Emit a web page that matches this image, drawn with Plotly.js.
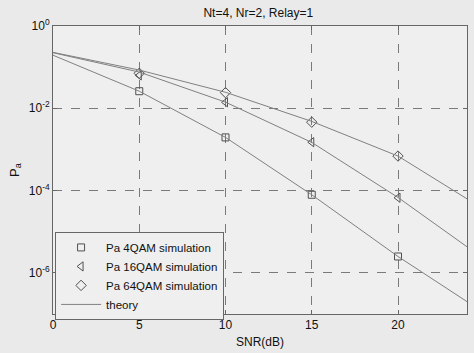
<!DOCTYPE html>
<html><head><meta charset="utf-8">
<script src="https://cdn.plot.ly/plotly-3.0.1.min.js"></script>
<style>html,body{margin:0;padding:0;background:#eaeaea;}</style>
</head><body><div id="chart" style="width:474px;height:353px;"></div>
<script>
const simSNR = [5, 10, 15, 20];
const sim4QAM = [0.026, 0.00196, 7.9e-5, 2.5e-6];
const sim16QAM = [0.063, 0.014, 0.0015, 6.7e-5];
const sim64QAM = [0.071, 0.024, 0.0046, 6.9e-4];

const theorySNR = [0, 5, 10, 15, 20, 24];
const th4QAM = [0.195, 0.026, 0.00196, 7.9e-5, 2.5e-6, 2.0e-7];
const th16QAM = [0.224, 0.076, 0.0141, 0.00148, 6.8e-5, 4.3e-6];
const th64QAM = [0.229, 0.085, 0.0245, 0.0048, 6.9e-4, 6.3e-5];

const mk = '#505050', ln = '#808080';
const traces = [
  {x: simSNR, y: sim4QAM, mode: 'markers', name: 'Pa 4QAM simulation',
   marker: {symbol: 'square-open', size: 7, color: mk, line: {width: 1}}},
  {x: simSNR, y: sim16QAM, mode: 'markers', name: 'Pa 16QAM simulation',
   marker: {symbol: 'triangle-left-open', size: 8, color: mk, line: {width: 1}}},
  {x: simSNR, y: sim64QAM, mode: 'markers', name: 'Pa 64QAM simulation',
   marker: {symbol: 'diamond-open', size: 8, color: mk, line: {width: 1}}},
  {x: theorySNR, y: th4QAM, mode: 'lines', name: 'theory', line: {color: ln, width: 1}},
  {x: theorySNR, y: th16QAM, mode: 'lines', showlegend: false, line: {color: ln, width: 1}},
  {x: theorySNR, y: th64QAM, mode: 'lines', showlegend: false, line: {color: ln, width: 1}}
];

const layout = {
  width: 474, height: 353,
  margin: {l: 53, r: 7, t: 26, b: 39},
  paper_bgcolor: '#eaeaea', plot_bgcolor: '#efefef',
  font: {family: 'Liberation Sans, Arial, sans-serif', size: 12, color: '#111'},
  title: {text: 'Nt=4, Nr=2, Relay=1', x: 0.545, xanchor: 'center', y: 0.965, yanchor: 'middle', font: {size: 12}},
  xaxis: {range: [0, 24], tickvals: [0, 5, 10, 15, 20], showgrid: true, gridcolor: '#7a7a7a', griddash: 'dash', gridwidth: 1,
    showline: true, linecolor: '#666', mirror: 'ticks', ticks: 'inside', ticklen: 4, tickcolor: '#666', zeroline: false,
    title: {text: 'SNR(dB)', standoff: 6, font: {size: 12}}},
  yaxis: {type: 'log', range: [-7, 0], tickvals: [1, 1e-2, 1e-4, 1e-6],
    ticktext: ['10<sup>0</sup>', '10<sup>-2</sup>', '10<sup>-4</sup>', '10<sup>-6</sup>'],
    showgrid: true, gridcolor: '#7a7a7a', griddash: 'dash', gridwidth: 1,
    showline: true, linecolor: '#666', mirror: 'ticks', ticks: 'inside', ticklen: 4, tickcolor: '#666', zeroline: false,
    title: {text: 'P<sub>a</sub>', standoff: 6, font: {size: 13}}},
  legend: {x: 0.005, y: 0.285, xanchor: 'left', yanchor: 'top', bgcolor: '#efefef', bordercolor: '#666', borderwidth: 1,
    font: {size: 11.5}, tracegroupgap: 0, itemwidth: 40}
};
Plotly.newPlot('chart', traces, layout, {displayModeBar: false, staticPlot: true});
</script></body></html>
